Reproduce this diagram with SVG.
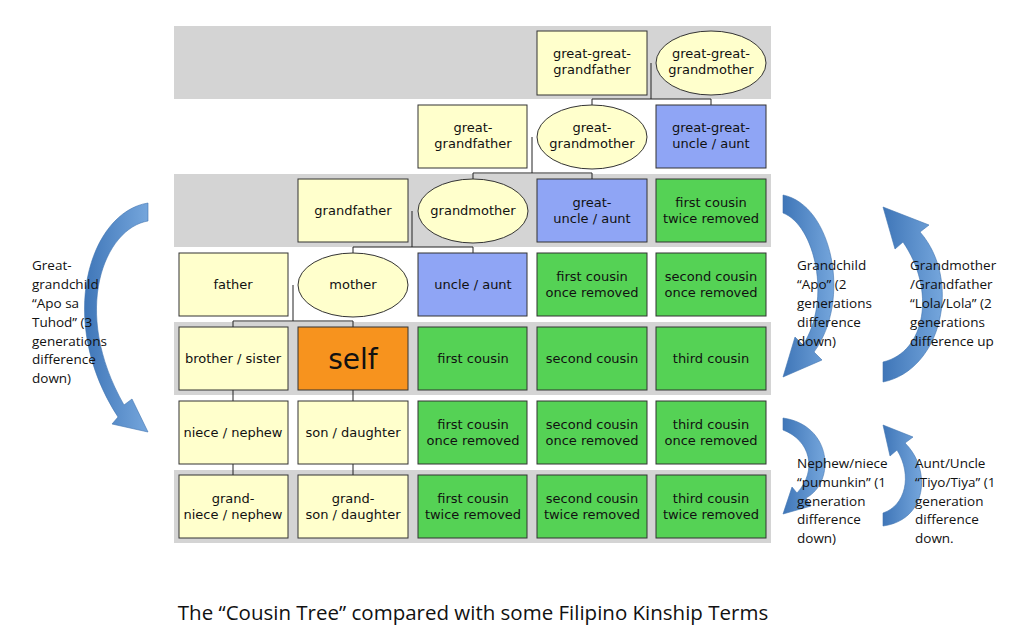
<svg xmlns="http://www.w3.org/2000/svg" width="1035" height="637" viewBox="0 0 1035 637">
<style>
.band{fill:#d4d4d4}
.c{fill:#ffffcc;stroke:#333;stroke-width:1}
.b{fill:#8fa5f5;stroke:#333;stroke-width:1}
.g{fill:#55d255;stroke:#333;stroke-width:1}
.o{fill:#f7931e;stroke:#333;stroke-width:1}
text{font-family:"DejaVu Sans",sans-serif;font-size:13px;fill:#111;text-anchor:middle}
.n{font-family:"Open Sans","Liberation Sans",sans-serif;font-size:13.5px;text-anchor:start}
.arr{fill:url(#ag);stroke:#3f74b0;stroke-width:0.6}
#conn path{fill:none;stroke:#222;stroke-width:1}
</style>
<defs><linearGradient id="ag" x1="0" y1="0" x2="1" y2="0"><stop offset="0" stop-color="#3f76b8"/><stop offset="1" stop-color="#75a6dc"/></linearGradient></defs>
<rect width="1035" height="637" fill="#fff"/>
<g id="bands">
<rect class="band" x="174" y="26" width="597" height="73"/>
<rect class="band" x="174" y="174" width="597" height="73"/>
<rect class="band" x="174" y="322" width="597" height="73"/>
<rect class="band" x="174" y="470" width="597" height="73"/>
</g>
<g id="conn">
<path d="M651,63V99M592,99H711M592,99V106M711,99V105"/>
<path d="M532,137V173M473,173H592M473,173V180M592,173V179"/>
<path d="M412,211V247M353,247H473M353,247V254M473,247V253"/>
<path d="M293,285V321M233,321H353M233,321V327M353,321V327"/>
<path d="M233,390V401M233,464V475M353,390V401M353,464V475"/>
</g>
<g id="n-ggf"><rect class="c" x="537" y="31" width="110" height="64"/><text x="592" y="58">great-great-</text><text x="592" y="74">grandfather</text></g>
<g id="n-ggm"><ellipse class="c" cx="711" cy="63" rx="55" ry="32"/><text x="711" y="58">great-great-</text><text x="711" y="74">grandmother</text></g>
<g id="n-gf1"><rect class="c" x="418" y="105" width="109" height="63"/><text x="473" y="132">great-</text><text x="473" y="148">grandfather</text></g>
<g id="n-gm1"><ellipse class="c" cx="592" cy="137" rx="55" ry="32"/><text x="592" y="132">great-</text><text x="592" y="148">grandmother</text></g>
<g id="n-ggu"><rect class="b" x="656" y="105" width="110" height="63"/><text x="711" y="132">great-great-</text><text x="711" y="148">uncle / aunt</text></g>
<g id="n-gf"><rect class="c" x="298" y="179" width="110" height="63"/><text x="353" y="215">grandfather</text></g>
<g id="n-gm"><ellipse class="c" cx="473" cy="211" rx="55" ry="32"/><text x="473" y="215">grandmother</text></g>
<g id="n-gu"><rect class="b" x="537" y="179" width="110" height="63"/><text x="592" y="207">great-</text><text x="592" y="223">uncle / aunt</text></g>
<g id="n-fc2r"><rect class="g" x="656" y="179" width="110" height="63"/><text x="711" y="207">first cousin</text><text x="711" y="223">twice removed</text></g>
<g id="n-father"><rect class="c" x="179" y="253" width="109" height="63"/><text x="233" y="289">father</text></g>
<g id="n-mother"><ellipse class="c" cx="353" cy="285" rx="55" ry="32"/><text x="353" y="289">mother</text></g>
<g id="n-uncle"><rect class="b" x="418" y="253" width="109" height="63"/><text x="473" y="289">uncle / aunt</text></g>
<g id="n-fc1r"><rect class="g" x="537" y="253" width="110" height="63"/><text x="592" y="281">first cousin</text><text x="592" y="297">once removed</text></g>
<g id="n-sc1r"><rect class="g" x="656" y="253" width="110" height="63"/><text x="711" y="281">second cousin</text><text x="711" y="297">once removed</text></g>
<g id="n-bro"><rect class="c" x="179" y="327" width="109" height="63"/><text x="233" y="363">brother / sister</text></g>
<g id="n-self"><rect class="o" x="298" y="327" width="110" height="63"/><text x="353" y="369" style="font-size:28px">self</text></g>
<g id="n-fc"><rect class="g" x="418" y="327" width="109" height="63"/><text x="473" y="363">first cousin</text></g>
<g id="n-sc"><rect class="g" x="537" y="327" width="110" height="63"/><text x="592" y="363">second cousin</text></g>
<g id="n-tc"><rect class="g" x="656" y="327" width="110" height="63"/><text x="711" y="363">third cousin</text></g>
<g id="n-niece"><rect class="c" x="179" y="401" width="109" height="63"/><text x="233" y="437">niece / nephew</text></g>
<g id="n-son"><rect class="c" x="298" y="401" width="110" height="63"/><text x="353" y="437">son / daughter</text></g>
<g id="n-fc1rb"><rect class="g" x="418" y="401" width="109" height="63"/><text x="473" y="429">first cousin</text><text x="473" y="445">once removed</text></g>
<g id="n-sc1rb"><rect class="g" x="537" y="401" width="110" height="63"/><text x="592" y="429">second cousin</text><text x="592" y="445">once removed</text></g>
<g id="n-tc1r"><rect class="g" x="656" y="401" width="110" height="63"/><text x="711" y="429">third cousin</text><text x="711" y="445">once removed</text></g>
<g id="n-gniece"><rect class="c" x="179" y="475" width="109" height="63"/><text x="233" y="503">grand-</text><text x="233" y="519">niece / nephew</text></g>
<g id="n-gson"><rect class="c" x="298" y="475" width="110" height="63"/><text x="353" y="503">grand-</text><text x="353" y="519">son / daughter</text></g>
<g id="n-fc2rb"><rect class="g" x="418" y="475" width="109" height="63"/><text x="473" y="503">first cousin</text><text x="473" y="519">twice removed</text></g>
<g id="n-sc2r"><rect class="g" x="537" y="475" width="110" height="63"/><text x="592" y="503">second cousin</text><text x="592" y="519">twice removed</text></g>
<g id="n-tc2r"><rect class="g" x="656" y="475" width="110" height="63"/><text x="711" y="503">third cousin</text><text x="711" y="519">twice removed</text></g>
<g id="arrows">
<path class="arr" d="M148,203 L148,221 C105,228 70,310 124,405 L132,399 L148,432 L112,424 L118,417 C55,320 90,212 148,203 Z"/>
<path class="arr" d="M783,195 C832,205 852,300 814,352 L822,360 L783,377 L795,337 L803,345 C832,300 815,225 783,213 Z"/>
<path class="arr" d="M883,382 C942,370 962,280 920,232 L929,225 L883,207 L895,249 L903,242 C936,290 926,352 883,362 Z"/>
<path class="arr" d="M783,418 C832,425 836,482 806,498 L811,506 L783,514 L792,487 L797,493 C818,470 810,440 783,430 Z"/>
<path class="arr" d="M883,526 C927,520 932,470 905,443 L913,437 L883,425 L890,456 L897,450 C913,476 905,506 883,513 Z"/>
</g>
<g id="labels">
<text class="n" x="32" y="270">Great-</text><text class="n" x="32" y="289">grandchild</text><text class="n" x="32" y="308">“Apo sa</text><text class="n" x="32" y="327">Tuhod” (3</text><text class="n" x="32" y="346">generations</text><text class="n" x="32" y="364">difference</text><text class="n" x="32" y="383">down)</text>
<text class="n" x="797" y="270">Grandchild</text><text class="n" x="797" y="289">“Apo” (2</text><text class="n" x="797" y="308">generations</text><text class="n" x="797" y="327">difference</text><text class="n" x="797" y="346">down)</text>
<text class="n" x="910" y="270">Grandmother</text><text class="n" x="910" y="289">/Grandfather</text><text class="n" x="910" y="308"> “Lola/Lola” (2</text><text class="n" x="910" y="327">generations</text><text class="n" x="910" y="346">difference up</text>
<text class="n" x="797" y="468">Nephew/niece</text><text class="n" x="797" y="487">“pumunkin” (1</text><text class="n" x="797" y="506">generation</text><text class="n" x="797" y="524">difference</text><text class="n" x="797" y="543">down)</text>
<text class="n" x="915" y="468">Aunt/Uncle</text><text class="n" x="915" y="487">“Tiyo/Tiya” (1</text><text class="n" x="915" y="506">generation</text><text class="n" x="915" y="524">difference</text><text class="n" x="915" y="543">down.</text>
<text x="473" y="620" style="font-family:'Open Sans','Liberation Sans',sans-serif;font-size:20.5px">The “Cousin Tree” compared with some Filipino Kinship Terms</text>
</g>
</svg>
